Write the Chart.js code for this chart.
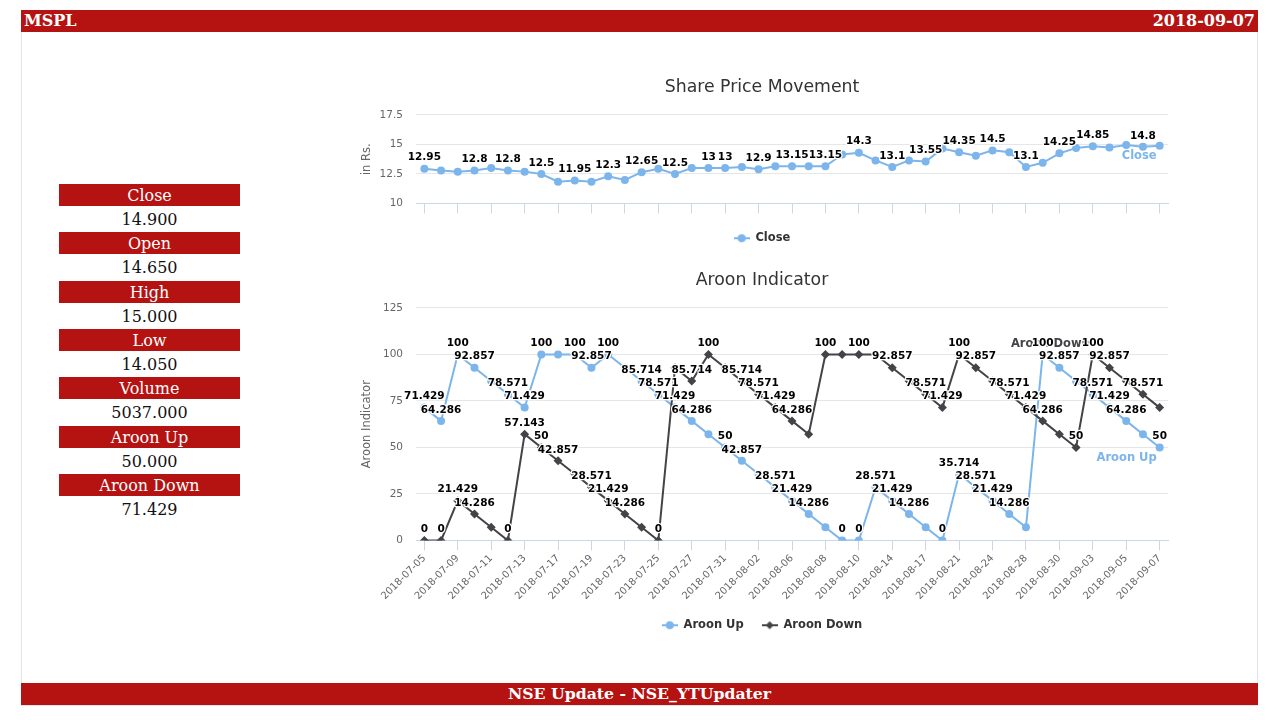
<!DOCTYPE html>
<html>
<head>
<meta charset="utf-8">
<script src="https://cdn.jsdelivr.net/npm/chart.js@4.4.0/dist/chart.umd.min.js"></script>
<style>
  body { margin: 0; width: 1280px; height: 720px; background: #fff; position: relative; overflow: hidden; font-family: "DejaVu Serif", serif; }
  #frame { position: absolute; left: 21px; top: 10px; width: 1235px; height: 694px; border: 1px solid #e4e4e4; }
  .bar { position: absolute; left: 21px; width: 1237px; height: 22px; background: #b51212; color: #fff; font-weight: bold; font-size: 16px; line-height: 22px; }
  #head { top: 10px; }
  #head .l { position: absolute; left: 3px; }
  #head .r { position: absolute; right: 3px; }
  #foot { top: 683px; text-align: center; font-size: 15.7px; }
  .pname { position: absolute; left: 59px; width: 181px; height: 22px; line-height: 23px; background: #b51212; color: #fff; text-align: center; font-size: 16px; }
  .pval { position: absolute; left: 59px; width: 181px; height: 26px; line-height: 28px; color: #111; text-align: center; font-size: 16px; }
  .box { position: absolute; left: 340px; width: 844px; }
</style>
</head>
<body>
<div id="frame"></div>
<div class="bar" id="head"><span class="l">MSPL</span><span class="r">2018-09-07</span></div>
<div class="bar" id="foot">NSE Update - NSE_YTUpdater</div>
<div id="panel"></div>
<div class="box" style="top:65px;height:189px"><canvas id="priceChart" width="844" height="189"></canvas></div>
<div class="box" style="top:258px;height:383px"><canvas id="aroonChart" width="844" height="383"></canvas></div>

<script>
// 日付（取引日）
const dates = [
  '2018-07-05', '2018-07-06', '2018-07-09', '2018-07-10', '2018-07-11', '2018-07-12', '2018-07-13',
  '2018-07-16', '2018-07-17', '2018-07-18', '2018-07-19', '2018-07-20', '2018-07-23', '2018-07-24',
  '2018-07-25', '2018-07-26', '2018-07-27', '2018-07-30', '2018-07-31', '2018-08-01', '2018-08-02',
  '2018-08-03', '2018-08-06', '2018-08-07', '2018-08-08', '2018-08-09', '2018-08-10', '2018-08-13',
  '2018-08-14', '2018-08-16', '2018-08-17', '2018-08-20', '2018-08-21', '2018-08-23', '2018-08-24',
  '2018-08-27', '2018-08-28', '2018-08-29', '2018-08-30', '2018-08-31', '2018-09-03', '2018-09-04',
  '2018-09-05', '2018-09-06', '2018-09-07'
];

// 終値
const closeValues = [
  12.95, 12.8, 12.7, 12.8, 13, 12.8, 12.7, 12.5, 11.85, 11.95, 11.85, 12.3, 12.0, 12.65, 12.95,
  12.5, 13, 13, 13, 13.1, 12.9, 13.15, 13.15, 13.15, 13.15, 14.15, 14.3, 13.65, 13.1, 13.65,
  13.55, 14.65, 14.35, 14.05, 14.5, 14.35, 13.1, 13.45, 14.25, 14.7, 14.85, 14.75, 14.95, 14.8, 14.9
];

// Aroon Up / Aroon Down
const aroonUp = [
  71.429, 64.286, 100, 92.857, 85.714, 78.571, 71.429, 100, 100, 100, 92.857, 100, 92.857, 85.714, 78.571,
  71.429, 64.286, 57.143, 50, 42.857, 35.714, 28.571, 21.429, 14.286, 7.143, 0, 0, 28.571, 21.429, 14.286,
  7.143, 0, 35.714, 28.571, 21.429, 14.286, 7.143, 100, 92.857, 85.714, 78.571, 71.429, 64.286, 57.143, 50
];
const aroonDown = [
  0, 0, 21.429, 14.286, 7.143, 0, 57.143, 50, 42.857, 35.714, 28.571, 21.429, 14.286, 7.143, 0,
  92.857, 85.714, 100, 92.857, 85.714, 78.571, 71.429, 64.286, 57.143, 100, 100, 100, 100, 92.857, 85.714,
  78.571, 71.429, 100, 92.857, 85.714, 78.571, 71.429, 64.286, 57.143, 50, 100, 92.857, 85.714, 78.571, 71.429
];

// 表示されているデータラベル（重なって隠れたものは除く）
const closeLabelIdx = [0, 3, 5, 7, 9, 11, 13, 15, 17, 18, 20, 22, 24, 26, 28, 30, 32, 34, 36, 38, 40, 43];
const upLabelIdx = [0, 1, 2, 3, 5, 6, 7, 9, 10, 11, 13, 14, 15, 16, 18, 19, 21, 22, 23, 25, 26, 27, 28, 29,
  31, 32, 33, 34, 35, 37, 38, 40, 41, 42, 44];
const downLabelIdx = [0, 1, 2, 3, 5, 6, 7, 8, 10, 11, 12, 14, 16, 17, 19, 20, 21, 22, 24, 26, 28, 30, 31,
  32, 33, 35, 36, 37, 39, 40, 41, 43];

// 左のパネル
const panelNames = ['Close', 'Open', 'High', 'Low', 'Volume', 'Aroon Up', 'Aroon Down'];
const panelValues = ['14.900', '14.650', '15.000', '14.050', '5037.000', '50.000', '71.429'];

const panel = document.getElementById('panel');
panelNames.forEach((name, i) => {
  const top = 184 + i * 48.3;
  panel.insertAdjacentHTML('beforeend',
    `<div class="pname" style="top:${top}px">${name}</div>` +
    `<div class="pval" style="top:${top + 22}px">${panelValues[i]}</div>`);
});

const BLUE = '#7cb5ec';
const DARK = '#434348';
Chart.defaults.font.family = '"DejaVu Sans", sans-serif';

// 凡例用の線＋マーカー
function legendIcon(color, style) {
  const c = document.createElement('canvas');
  c.width = 16; c.height = 10;
  const g = c.getContext('2d');
  g.strokeStyle = color; g.lineWidth = 2;
  g.beginPath(); g.moveTo(0, 5); g.lineTo(16, 5); g.stroke();
  g.fillStyle = color; g.beginPath();
  if (style === 'circle') {
    g.arc(8, 5, 4, 0, Math.PI * 2);
  } else {
    g.moveTo(8, 1); g.lineTo(12, 5); g.lineTo(8, 9); g.lineTo(4, 5); g.closePath();
  }
  g.fill();
  return c;
}

// データラベルとシリーズ名
const labelPlugin = {
  id: 'pointLabels',
  afterDatasetsDraw(chart) {
    const ctx = chart.ctx;
    ctx.save();
    ctx.lineJoin = 'round';
    ctx.textBaseline = 'middle';
    chart.data.datasets.forEach((ds, di) => {
      const meta = chart.getDatasetMeta(di);
      const sl = ds.seriesLabel;
      if (sl) {
        const p = meta.data[sl.idx];
        ctx.font = 'bold 11.5px "DejaVu Sans"';
        ctx.textAlign = sl.align;
        ctx.fillStyle = ds.borderColor;
        ctx.fillText(ds.label, p.x + sl.dx, chart.scales.y.getPixelForValue(sl.y));
      }
    });
    ctx.font = 'bold 10.5px "DejaVu Sans"';
    ctx.textAlign = 'center';
    chart.data.datasets.forEach((ds, di) => {
      const meta = chart.getDatasetMeta(di);
      ds.labelIdx.forEach(i => {
        const p = meta.data[i];
        const txt = String(ds.data[i]);
        ctx.strokeStyle = '#fff'; ctx.lineWidth = 2.5;
        ctx.strokeText(txt, p.x, p.y - 11);
        ctx.fillStyle = '#000';
        ctx.fillText(txt, p.x, p.y - 11);
      });
    });
    ctx.restore();
  }
};

function lineSet(label, data, color, style, labelIdx, seriesLabel, order) {
  return {
    label: label, data: data, borderColor: color, backgroundColor: color,
    borderWidth: 2, tension: 0, pointStyle: style === 'circle' ? 'circle' : 'rectRot',
    pointRadius: style === 'circle' ? 4 : 4.5, pointBorderWidth: 0, pointBackgroundColor: color,
    legendStyle: style, labelIdx: labelIdx, seriesLabel: seriesLabel, order: order
  };
}

function options(cfg) {
  return {
    responsive: false,
    animation: false,
    events: [],
    layout: { padding: { left: 16, right: 16 } },
    plugins: {
      title: {
        display: true, text: cfg.title, color: '#333',
        font: { size: 17.3, weight: 'normal' }, padding: { top: 12.1, bottom: 17.1 }
      },
      legend: {
        position: 'bottom',
        labels: {
          usePointStyle: true, pointStyleWidth: 16, padding: 18, color: '#333',
          font: { size: 11.5, weight: 'bold' },
          generateLabels: chart => chart.data.datasets.map((ds, i) => ({
            text: ds.label, fillStyle: ds.borderColor, strokeStyle: ds.borderColor,
            lineWidth: 0, pointStyle: legendIcon(ds.borderColor, ds.legendStyle),
            hidden: false, datasetIndex: i, fontColor: '#333'
          }))
        }
      },
      tooltip: { enabled: false }
    },
    scales: {
      x: {
        type: 'category', offset: true,
        border: { color: '#ccd6eb' },
        grid: {
          drawOnChartArea: false, offset: false, tickLength: 10,
          tickColor: c => (c.index % 2 === 0 ? '#ccd6eb' : 'rgba(0,0,0,0)')
        },
        ticks: {
          display: cfg.showDates, autoSkip: false, minRotation: 45, maxRotation: 45,
          color: '#666', font: { size: 10 }, padding: 2,
          callback: function (v, i) { return i % 2 === 0 ? this.getLabelForValue(v) : ''; }
        },
        afterFit: s => { s.height = cfg.xHeight; }
      },
      y: {
        min: cfg.min, max: cfg.max,
        border: { display: false },
        grid: { color: '#e6e6e6', drawTicks: false },
        ticks: { stepSize: cfg.step, color: '#666', font: { size: 10.5 }, padding: 13 },
        title: { display: true, text: cfg.yTitle, color: '#666', font: { size: 11.5 }, padding: { top: 4, bottom: 0 } },
        afterFit: s => { s.width = 60; }
      }
    }
  };
}

new Chart(document.getElementById('priceChart'), {
  type: 'line',
  data: {
    labels: dates,
    datasets: [
      lineSet('Close', closeValues, BLUE, 'circle', closeLabelIdx, { idx: 44, dx: -3, y: 14.05, align: 'right' }, 0)
    ]
  },
  options: options({ title: 'Share Price Movement', yTitle: 'in Rs.', min: 10, max: 17.5, step: 2.5, xHeight: 11, showDates: false }),
  plugins: [labelPlugin]
});

new Chart(document.getElementById('aroonChart'), {
  type: 'line',
  data: {
    labels: dates,
    datasets: [
      lineSet('Aroon Up', aroonUp, BLUE, 'circle', upLabelIdx, { idx: 44, dx: -3, y: 44.5, align: 'right' }, 1),
      lineSet('Aroon Down', aroonDown, DARK, 'diamond', downLabelIdx, { idx: 38, dx: -9, y: 105.5, align: 'center' }, 0)
    ]
  },
  options: options({ title: 'Aroon Indicator', yTitle: 'Aroon Indicator', min: 0, max: 125, step: 25, xHeight: 61, showDates: true }),
  plugins: [labelPlugin]
});
</script>
</body>
</html>
